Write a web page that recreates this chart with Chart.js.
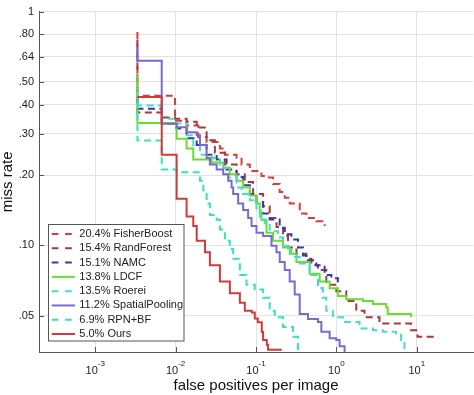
<!DOCTYPE html>
<html><head><meta charset="utf-8">
<script src="https://cdn.jsdelivr.net/npm/chart.js@4.4.1/dist/chart.umd.min.js"></script>
<style>html,body{margin:0;padding:0;background:#fff}#wrap{width:474px;height:395px;position:relative}</style>
</head><body><div id="wrap"><canvas id="c"></canvas></div>
<script>
// ---- data (fppi, miss rate) ----
const seriesNames = ['20.4% FisherBoost','15.4% RandForest','15.1% NAMC','13.8% LDCF','13.5% Roerei','11.2% SpatialPooling','6.9% RPN+BF','5.0% Ours'];
const fisherBoost = [[0.00335,0.818],[0.00335,0.437],[0.00983,0.341],[0.0137,0.326],[0.0191,0.291],[0.0243,0.277],[0.0356,0.260],[0.0410,0.244],[0.0573,0.237],[0.0661,0.222],[0.0838,0.208],[0.117,0.198],[0.135,0.195],[0.163,0.183],[0.197,0.169],[0.228,0.160],[0.263,0.151],[0.350,0.137],[0.423,0.131],[0.563,0.127],[0.714,0.121]];
const randForest = [[0.00335,0.76],[0.00335,0.370],[0.00672,0.352],[0.00983,0.348],[0.0137,0.338],[0.0183,0.319],[0.0243,0.282],[0.0308,0.249],[0.0410,0.222],[0.0573,0.2015],[0.0726,0.1865],[0.0920,0.166],[0.1225,0.147],[0.148,0.131],[0.180,0.120],[0.217,0.110],[0.250,0.098],[0.318,0.092],[0.423,0.0877],[0.488,0.0823],[0.590,0.0784],[0.749,0.0679],[0.997,0.0637],[1.327,0.0579],[1.766,0.0526],[2.238,0.0493],[3.436,0.0463],[8.5,0.0434],[10.2,0.0407],[16.5,0.0401]];
const namc = [[0.00335,0.434],[0.00335,0.384],[0.00672,0.332],[0.0103,0.316],[0.0137,0.287],[0.0183,0.269],[0.0243,0.244],[0.0324,0.233],[0.0431,0.211],[0.0573,0.196],[0.0692,0.181],[0.0838,0.166],[0.1014,0.1535],[0.1225,0.137],[0.148,0.129],[0.197,0.119],[0.228,0.1115],[0.276,0.106],[0.333,0.098],[0.384,0.0906],[0.443,0.0864],[0.563,0.0823],[0.714,0.0747],[0.865,0.0724],[1.044,0.0679]];
const ldcf = [[0.00335,0.543],[0.00335,0.334],[0.0103,0.286],[0.0137,0.260],[0.0166,0.233],[0.0281,0.226],[0.0391,0.215],[0.0473,0.2015],[0.0573,0.189],[0.0692,0.177],[0.0838,0.1635],[0.1014,0.151],[0.1115,0.1395],[0.117,0.1287],[0.135,0.1133],[0.163,0.1046],[0.217,0.098],[0.263,0.092],[0.318,0.085],[0.465,0.0757],[0.619,0.0701],[0.824,0.0655],[1.044,0.0607],[1.327,0.0588],[2.133,0.0579],[2.838,0.0561],[4.159,0.0543],[4.355,0.0509],[8.5,0.0493]];
const roerei = [[0.00335,0.455],[0.00335,0.397],[0.00672,0.348],[0.0103,0.332],[0.0137,0.296],[0.0166,0.269],[0.0201,0.244],[0.0281,0.2365],[0.0356,0.215],[0.0451,0.195],[0.0573,0.177],[0.0661,0.166],[0.0838,0.156],[0.1014,0.144],[0.1115,0.1287],[0.1286,0.1226],[0.148,0.115],[0.188,0.108],[0.217,0.0997],[0.276,0.0891],[0.350,0.0836],[0.465,0.0747],[0.590,0.0657],[0.680,0.0597],[0.749,0.0526],[0.905,0.0493],[1.204,0.047],[1.941,0.0441],[2.838,0.0434],[3.776,0.0427],[5.537,0.042],[6.386,0.0394],[7.018,0.034]];
const spatialPooling = [[0.00335,0.715],[0.00335,0.617],[0.00672,0.331],[0.0103,0.320],[0.0137,0.305],[0.0183,0.296],[0.0201,0.269],[0.0243,0.2365],[0.0267,0.222],[0.0324,0.211],[0.0391,0.2015],[0.0451,0.189],[0.0497,0.177],[0.052,0.166],[0.060,0.151],[0.0692,0.1417],[0.0798,0.131],[0.088,0.121],[0.1014,0.1133],[0.1225,0.1097],[0.1557,0.0997],[0.1797,0.0935],[0.1974,0.085],[0.2277,0.0784],[0.2627,0.0701],[0.303,0.0617],[0.3495,0.0509],[0.443,0.0485],[0.590,0.047],[0.650,0.0427],[0.824,0.0401],[0.997,0.0394],[1.096,0.037],[1.264,0.034]];
const rpnBf = [[0.00335,0.414],[0.00335,0.281],[0.00672,0.211],[0.0103,0.2054],[0.0201,0.189],[0.0221,0.172],[0.0243,0.151],[0.0267,0.135],[0.0324,0.1287],[0.0356,0.117],[0.0410,0.1046],[0.0473,0.0965],[0.052,0.0877],[0.063,0.0747],[0.0762,0.0679],[0.0966,0.0647],[0.1225,0.0597],[0.148,0.0526],[0.171,0.0493],[0.217,0.0448],[0.289,0.0407],[0.333,0.034]];
const ours = [[0.00335,0.431],[0.00672,0.244],[0.0103,0.1585],[0.0137,0.133],[0.0166,0.121],[0.0183,0.1046],[0.0232,0.0935],[0.0267,0.0823],[0.0356,0.0701],[0.0473,0.0625],[0.063,0.0568],[0.0726,0.0526],[0.0887,0.0516],[0.0966,0.0487],[0.1053,0.0469],[0.118,0.0426],[0.1225,0.0394],[0.1361,0.0376],[0.1413,0.0358],[0.209,0.0358]];
const xTicks = [1e-3,1e-2,1e-1,1,10];
const yTicks = [1,0.8,0.64,0.5,0.4,0.3,0.2,0.1,0.05];

// ---- styles ----
const allSeries = [fisherBoost,randForest,namc,ldcf,roerei,spatialPooling,rpnBf,ours];
const colors = ['#dd3a40','#a53a3c','#3a37a8','#6bdb35','#45dccb','#7c69cf','#33e6b2','#d03a3a'];
const dashed = [true,true,true,false,true,false,true,false];
const FONT = '"Liberation Sans", Arial, Helvetica, sans-serif';
Chart.defaults.font.family = FONT;

const overlay = {
  id:'overlay',
  afterDraw(chart){
    const ctx=chart.ctx, a=chart.chartArea, xs=chart.scales.x, ys=chart.scales.y;
    ctx.save();
    ctx.strokeStyle='#555'; ctx.lineWidth=1; ctx.setLineDash([]);
    ctx.beginPath();
    yTicks.forEach(v=>{const p=Math.round(ys.getPixelForValue(v))+0.5; ctx.moveTo(a.left,p); ctx.lineTo(a.left+5,p);});
    xTicks.forEach(v=>{const p=Math.round(xs.getPixelForValue(v))+0.5; ctx.moveTo(p,a.bottom); ctx.lineTo(p,a.bottom-5);});
    ctx.stroke();
    // x tick labels with superscript exponent
    ctx.fillStyle='#222'; ctx.textBaseline='middle'; ctx.textAlign='left';
    xTicks.forEach(v=>{
      const e=Math.round(Math.log10(v)); const base='10', sup=String(e);
      ctx.font='11px '+FONT; const wb=ctx.measureText(base).width;
      ctx.font='8px '+FONT; const ws=ctx.measureText(sup).width;
      const x0=xs.getPixelForValue(v)-(wb+ws)/2;
      ctx.font='11px '+FONT; ctx.fillText(base,x0,a.bottom+19);
      ctx.font='8px '+FONT; ctx.fillText(sup,x0+wb,a.bottom+12);
    });
    // legend box
    const lx=48.5, ly=224.5, lw=135.5, lh=116.5;
    ctx.fillStyle='#fff'; ctx.fillRect(lx,ly,lw,lh);
    ctx.strokeStyle='#555'; ctx.lineWidth=1; ctx.strokeRect(lx,ly,lw,lh);
    seriesNames.forEach((n,i)=>{
      const y=ly+9.5+i*14.29;
      ctx.strokeStyle=colors[i]; ctx.lineWidth=2;
      ctx.setLineDash(dashed[i]?[6.7,6.7]:[]);
      ctx.beginPath(); ctx.moveTo(51.7,y); ctx.lineTo(dashed[i]?71.8:75,y); ctx.stroke();
      ctx.setLineDash([]);
      ctx.fillStyle='#222'; ctx.font='11px '+FONT; ctx.textAlign='left'; ctx.textBaseline='middle';
      ctx.fillText(n,79.3,y);
    });
    ctx.restore();
  }
};

new Chart(document.getElementById('c'), {
  type:'line',
  data:{datasets: allSeries.map((d,i)=>({
    label: seriesNames[i],
    data: d.map(p=>({x:p[0],y:p[1]})),
    borderColor: colors[i], backgroundColor: colors[i],
    borderWidth: 2, borderDash: dashed[i]?[7,4.5]:[],
    stepped: true, pointRadius: 0, fill: false,
    order: allSeries.length - i
  }))},
  options:{
    responsive:true, maintainAspectRatio:false, animation:false,
    layout:{padding:{top:3,right:1,left:0,bottom:0}},
    plugins:{legend:{display:false}, tooltip:{enabled:false}},
    scales:{
      x:{type:'logarithmic', min:2e-4, max:50,
        afterBuildTicks:s=>{s.ticks=xTicks.map(v=>({value:v}));},
        afterFit:s=>{s.height=43;},
        grid:{color:'#e2e2e2', drawTicks:false},
        border:{color:'#555'},
        ticks:{display:false},
        title:{display:true, text:'false positives per image', color:'#111', font:{size:15}, padding:0}
      },
      y:{type:'logarithmic', min:0.035, max:1,
        afterBuildTicks:s=>{s.ticks=yTicks.map(v=>({value:v}));},
        afterFit:s=>{s.width=39;},
        grid:{color:'#e2e2e2', drawTicks:false},
        border:{color:'#555'},
        ticks:{autoSkip:false, padding:5, color:'#222', font:{size:11},
          callback:v=> v===1 ? '1' : '.'+String(Math.round(v*100)).padStart(2,'0')},
        title:{display:true, text:'miss rate', color:'#111', font:{size:15, lineHeight:1}, padding:0}
      }
    }
  },
  plugins:[overlay]
});
</script></body></html>
